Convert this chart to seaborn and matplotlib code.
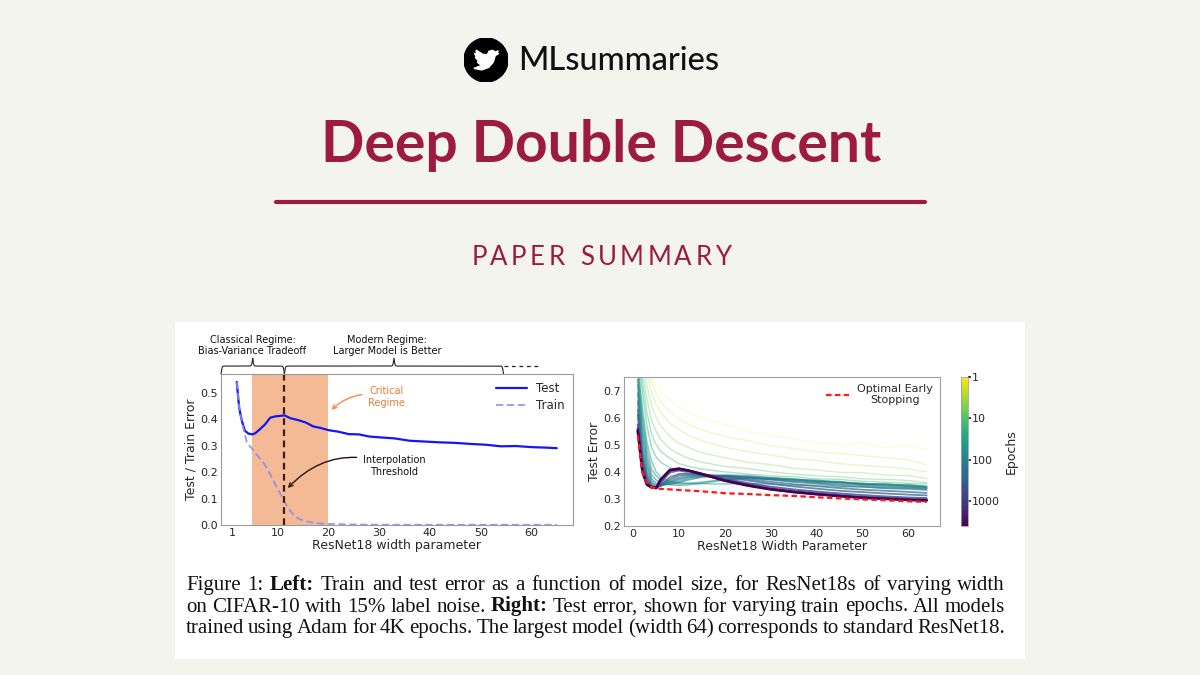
import numpy as np
import pandas as pd
import seaborn as sns
import matplotlib
matplotlib.use("Agg")
import matplotlib.pyplot as plt
import matplotlib.transforms as mtransforms
from matplotlib.colors import LogNorm
from matplotlib.patches import Rectangle, Circle, Polygon
from matplotlib.cm import ScalarMappable


'''
Data read off the picture
'''

# left panel: test / train error vs width
test_width = [1.9, 2.4, 2.9, 3.5, 4.2, 5.0, 5.6, 6.5, 7.5, 8.5, 9.5, 10.5,
              11.3, 12.5, 14, 15.5, 17, 18.5, 20, 22, 24, 26, 28, 30, 33,
              36, 39, 42, 45, 48, 51, 54, 57, 60, 63, 65]
test_error = [0.54, 0.44, 0.394, 0.356, 0.345, 0.342, 0.347, 0.362, 0.38,
              0.405, 0.41, 0.412, 0.414, 0.403, 0.396, 0.387, 0.372, 0.366,
              0.358, 0.352, 0.343, 0.342, 0.334, 0.331, 0.327, 0.318, 0.315,
              0.312, 0.31, 0.306, 0.303, 0.297, 0.298, 0.294, 0.292, 0.29]

train_width = [1.9, 2.4, 2.9, 3.9, 5.0, 6.0, 7.0, 8.0, 8.8, 9.6, 10.5, 11.3,
               12.4, 13.4, 14.5, 16, 18, 20, 25, 30, 40, 50, 65]
train_error = [0.54, 0.44, 0.39, 0.311, 0.286, 0.262, 0.24, 0.21, 0.18,
               0.15, 0.118, 0.088, 0.055, 0.032, 0.02, 0.012, 0.006, 0.004,
               0.002, 0.001, 0.001, 0.001, 0.001]

critical_start, critical_end = 5.0, 19.8
interp_threshold = 11.3

# right panel: test error vs width for a range of train epochs
widths = [1, 2, 3, 4, 5, 6, 8, 10, 12, 15, 20, 25, 30, 35, 40, 45, 50, 55, 60, 64]
epochs = [1, 2, 3, 5, 8, 13, 20, 35, 45, 60, 80, 100, 140, 180, 240, 300,
          600, 1200, 2500, 4000]

err_ep1 = [0.95, 0.92, 0.84, 0.76, 0.72, 0.70, 0.665, 0.64, 0.62, 0.60, 0.575, 0.55, 0.535, 0.52, 0.508, 0.50, 0.505, 0.49, 0.497, 0.48]
err_ep2 = [0.93, 0.89, 0.80, 0.73, 0.69, 0.66, 0.62, 0.595, 0.575, 0.555, 0.53, 0.515, 0.495, 0.487, 0.473, 0.468, 0.46, 0.452, 0.445, 0.425]
err_ep3 = [0.91, 0.86, 0.76, 0.69, 0.65, 0.62, 0.58, 0.555, 0.535, 0.515, 0.49, 0.475, 0.462, 0.448, 0.442, 0.43, 0.424, 0.418, 0.41, 0.40]
err_ep5 = [0.89, 0.82, 0.72, 0.645, 0.60, 0.57, 0.53, 0.505, 0.49, 0.47, 0.452, 0.435, 0.427, 0.413, 0.407, 0.398, 0.397, 0.388, 0.386, 0.375]
err_ep8 = [0.87, 0.78, 0.67, 0.59, 0.55, 0.52, 0.485, 0.465, 0.45, 0.435, 0.42, 0.412, 0.40, 0.392, 0.385, 0.382, 0.374, 0.372, 0.368, 0.36]
err_ep13 = [0.85, 0.74, 0.62, 0.54, 0.50, 0.475, 0.45, 0.43, 0.42, 0.41, 0.40, 0.392, 0.385, 0.382, 0.374, 0.372, 0.365, 0.362, 0.358, 0.355]
err_ep20 = [0.83, 0.70, 0.57, 0.49, 0.455, 0.435, 0.415, 0.405, 0.395, 0.39, 0.385, 0.382, 0.375, 0.372, 0.364, 0.362, 0.355, 0.357, 0.35, 0.345]
err_ep35 = [0.80, 0.64, 0.51, 0.44, 0.40, 0.38, 0.365, 0.36, 0.358, 0.356, 0.355, 0.357, 0.355, 0.35, 0.351, 0.345, 0.344, 0.341, 0.34, 0.338]
err_ep45 = [0.78, 0.61, 0.485, 0.41, 0.385, 0.37, 0.36, 0.356, 0.357, 0.362, 0.372, 0.376, 0.372, 0.37, 0.362, 0.36, 0.352, 0.35, 0.345, 0.342]
err_ep60 = [0.76, 0.58, 0.46, 0.39, 0.37, 0.36, 0.352, 0.35, 0.352, 0.358, 0.37, 0.378, 0.373, 0.371, 0.365, 0.362, 0.355, 0.354, 0.349, 0.345]
err_ep80 = [0.74, 0.55, 0.44, 0.375, 0.358, 0.354, 0.354, 0.36, 0.37, 0.38, 0.385, 0.38, 0.378, 0.37, 0.369, 0.36, 0.358, 0.35, 0.353, 0.346]
err_ep100 = [0.72, 0.52, 0.42, 0.365, 0.35, 0.35, 0.355, 0.365, 0.375, 0.383, 0.388, 0.386, 0.378, 0.374, 0.366, 0.364, 0.355, 0.354, 0.347, 0.343]
err_ep140 = [0.69, 0.49, 0.40, 0.356, 0.345, 0.348, 0.36, 0.372, 0.38, 0.385, 0.384, 0.38, 0.373, 0.366, 0.361, 0.355, 0.351, 0.345, 0.343, 0.338]
err_ep180 = [0.66, 0.47, 0.385, 0.35, 0.342, 0.348, 0.365, 0.378, 0.385, 0.387, 0.385, 0.378, 0.371, 0.362, 0.357, 0.349, 0.345, 0.339, 0.337, 0.333]
err_ep240 = [0.63, 0.455, 0.377, 0.348, 0.341, 0.35, 0.372, 0.386, 0.39, 0.389, 0.383, 0.373, 0.363, 0.354, 0.347, 0.34, 0.334, 0.33, 0.326, 0.322]
err_ep300 = [0.61, 0.44, 0.37, 0.347, 0.34, 0.352, 0.38, 0.392, 0.394, 0.39, 0.38, 0.368, 0.356, 0.346, 0.338, 0.33, 0.325, 0.32, 0.316, 0.313]
err_ep600 = [0.575, 0.42, 0.36, 0.345, 0.34, 0.36, 0.398, 0.405, 0.402, 0.392, 0.375, 0.358, 0.345, 0.335, 0.327, 0.32, 0.314, 0.309, 0.305, 0.303]
err_ep1200 = [0.56, 0.41, 0.355, 0.344, 0.34, 0.368, 0.405, 0.41, 0.405, 0.393, 0.37, 0.352, 0.338, 0.328, 0.32, 0.313, 0.307, 0.303, 0.299, 0.297]
err_ep2500 = [0.555, 0.405, 0.353, 0.343, 0.34, 0.37, 0.406, 0.411, 0.405, 0.392, 0.368, 0.35, 0.336, 0.326, 0.318, 0.311, 0.305, 0.301, 0.297, 0.295]
err_ep4000 = [0.55, 0.40, 0.352, 0.342, 0.34, 0.372, 0.407, 0.412, 0.405, 0.391, 0.367, 0.349, 0.335, 0.325, 0.317, 0.31, 0.304, 0.30, 0.296, 0.294]

optimal_early_stop = [0.535, 0.40, 0.36, 0.342, 0.339, 0.337, 0.335, 0.333, 0.331, 0.328, 0.321, 0.318, 0.314, 0.311, 0.306, 0.302, 0.298, 0.295, 0.291, 0.289]

epoch_curves = [err_ep1, err_ep2, err_ep3, err_ep5, err_ep8, err_ep13, err_ep20,
                err_ep35, err_ep45, err_ep60, err_ep80, err_ep100, err_ep140,
                err_ep180, err_ep240, err_ep300, err_ep600, err_ep1200,
                err_ep2500, err_ep4000]

caption_lines = [
    [("Figure 1:", False), ("Left:", True),
     ("Train and test error as a function of model size, for ResNet18s of varying width", False)],
    [("on CIFAR-10 with 15% label noise.", False), ("Right:", True),
     ("Test error, shown for varying train epochs. All models", False)],
    [("trained using Adam for 4K epochs. The largest model (width 64) corresponds to standard ResNet18.", False)],
]


'''
Style
'''

sns.set_theme(style="white")
plt.rcParams['font.family'] = ['DejaVu Sans']

BG = "#f4f4ef"
CRIMSON = "#9d1b40"
W, H = 1200, 675

fig = plt.figure(figsize=(12, 6.75), dpi=100, facecolor=BG)
renderer = fig.canvas.get_renderer()


def fx(x):
    return x / W


def fy(y):
    return 1 - y / H


def spaced_text(s, xc, y, size, color, track, **kw):
    # place letters one by one to get the wide tracking of the subtitle
    arts = [fig.text(0, fy(y), ch, fontsize=size, color=color, va="center", **kw) for ch in s]
    widths = []
    for ch, a in zip(s, arts):
        if ch == " ":
            widths.append(size * 0.35 * 100 / 72)
        else:
            widths.append(a.get_window_extent(renderer).width)
    total = sum(widths) + track * (len(s) - 1)
    x = xc - total / 2
    for a, w in zip(arts, widths):
        a.set_x(fx(x))
        x += w + track


def justified_line(segments, x0, x1, y, size):
    words = []
    for text, bold in segments:
        for w in text.split():
            words.append((w, bold))
    arts = [fig.text(0, fy(y), w, fontsize=size, family="Liberation Serif",
                     weight="bold" if b else "normal", va="baseline", color="#111111")
            for w, b in words]
    ws = [a.get_window_extent(renderer).width for a in arts]
    gap = (x1 - x0 - sum(ws)) / (len(words) - 1)
    x = x0
    for a, w in zip(arts, ws):
        a.set_x(fx(x))
        x += w + gap


'''
Header
'''

iax = fig.add_axes([fx(464), fy(82), fx(44), 44 / H])
iax.set_xlim(-1, 1)
iax.set_ylim(-1, 1)
iax.set_aspect("equal")
iax.axis("off")
iax.add_patch(Circle((0, 0), 1, color="black"))
bird = [(-0.55, -0.38), (-0.2, -0.45), (0.12, -0.34), (0.33, -0.1), (0.42, 0.2),
        (0.58, 0.3), (0.47, 0.3), (0.56, 0.42), (0.42, 0.36), (0.3, 0.44),
        (0.14, 0.4), (0.06, 0.24), (-0.15, 0.26), (-0.45, 0.45), (-0.43, 0.27),
        (-0.52, 0.3), (-0.42, 0.1), (-0.48, 0.12), (-0.32, -0.08), (-0.4, -0.1),
        (-0.2, -0.25)]
iax.add_patch(Polygon(bird, closed=True, color="white"))

fig.text(fx(518), fy(61), "MLsummaries", fontsize=23.5, family="Lato",
         weight="medium", color="#111111", va="center", ha="left")

fig.text(fx(601), fy(146), "Deep Double Descent", fontsize=41, family="Lato",
         weight="bold", color=CRIMSON, va="center", ha="center")
fig.add_artist(plt.Line2D([fx(276), fx(925)], [fy(202), fy(202)], color=CRIMSON,
                          lw=3, solid_capstyle="round", transform=fig.transFigure))
spaced_text("PAPER SUMMARY", 601, 257, 18.5, CRIMSON, 3.4, family="Lato", weight="normal")

# white paper figure card
fig.add_artist(Rectangle((fx(175), fy(659)), 850 / W, 337 / H, transform=fig.transFigure,
                         facecolor="white", edgecolor="none", zorder=0))


'''
Left panel
'''

ax1 = fig.add_axes([fx(221), fy(525), 352 / W, 151 / H])
ax1.set_facecolor("white")
ax1.axvspan(critical_start, critical_end, color="#f4b995", lw=0, zorder=0)
sns.lineplot(x=test_width, y=test_error, ax=ax1, color="#1515f5", lw=1.6, label="Test")
sns.lineplot(x=train_width, y=train_error, ax=ax1, color="#8c8cf0", lw=1.3,
             linestyle=(0, (4, 2)), label="Train", alpha=0.9)
ax1.axvline(interp_threshold, ymin=0, ymax=1.0, color="#3b1e0e", lw=1.6,
            linestyle=(0, (3, 2)), clip_on=False)

ax1.set_xlim(-1.2, 68.2)
ax1.set_ylim(0, 0.57)
ax1.set_xticks([1, 10, 20, 30, 40, 50, 60])
ax1.set_yticks([0.0, 0.1, 0.2, 0.3, 0.4, 0.5])
ax1.set_yticklabels(["0.0", "0.1", "0.2", "0.3", "0.4", "0.5"])
ax1.set_xlabel("ResNet18 width parameter", fontsize=9, labelpad=1)
ax1.set_ylabel("Test / Train Error", fontsize=9, labelpad=2)
ax1.tick_params(labelsize=8, length=0, pad=2)
for sp in ax1.spines.values():
    sp.set_color("#9a9a9a")
    sp.set_linewidth(0.8)
leg = ax1.legend(loc="upper right", frameon=False, fontsize=8.5, handlelength=2.6,
                 borderaxespad=0.3, labelspacing=0.3)

ax1.annotate("Critical\nRegime", xy=(20.2, 0.427), xytext=(31.4, 0.484),
             fontsize=7, color="#f07a36", ha="center", va="center",
             arrowprops=dict(arrowstyle="->", color="#f58c50", lw=1,
                             connectionstyle="arc3,rad=0.3"))
ax1.annotate("Interpolation\nThreshold", xy=(11.6, 0.132), xytext=(32.9, 0.222),
             fontsize=7, color="#111111", ha="center", va="center",
             arrowprops=dict(arrowstyle="->", color="#2a1208", lw=1,
                             connectionstyle="arc3,rad=0.35"))


def brace(ax, x0, x1, h=0.105):
    trans = mtransforms.blended_transform_factory(ax.transData, ax.transAxes)
    lo, hi = ax.get_xlim()
    span_px = ax.get_position().width * W * (x1 - x0) / (hi - lo)
    beta = 2.0 * span_px
    xs = np.linspace(0, 0.5, 300)
    half = 1 / (1 + np.exp(-beta * (xs - xs[0]))) + 1 / (1 + np.exp(-beta * (xs - xs[-1])))
    ys = np.concatenate([half, half[::-1]]) - 0.5
    xx = np.concatenate([xs, xs + 0.5])
    ax.plot(x0 + xx * (x1 - x0), 1.0 + ys * h, color="#222222", lw=0.8,
            transform=trans, clip_on=False)


brace(ax1, -1.2, interp_threshold)
brace(ax1, interp_threshold, 54.5)
trans1 = mtransforms.blended_transform_factory(ax1.transData, ax1.transAxes)
ax1.plot([54.5, 61.5], [1.055, 1.055], color="#222222", lw=0.9,
         linestyle=(0, (3, 3)), transform=trans1, clip_on=False)
ax1.text(5.0, 1.19, "Classical Regime:\nBias-Variance Tradeoff", fontsize=7,
         ha="center", va="center", transform=trans1, color="#111111", linespacing=1.2)
ax1.text(31.5, 1.19, "Modern Regime:\nLarger Model is Better", fontsize=7,
         ha="center", va="center", transform=trans1, color="#111111", linespacing=1.2)


'''
Right panel
'''

ax2 = fig.add_axes([fx(624), fy(526), 316 / W, 149 / H])
ax2.set_facecolor("white")

norm = LogNorm(vmin=1, vmax=4000)
df = pd.DataFrame({
    "width": np.tile(widths, len(epochs)),
    "epoch": np.repeat(epochs, len(widths)),
    "error": np.concatenate(epoch_curves),
})
sns.lineplot(data=df, x="width", y="error", hue="epoch", hue_norm=norm,
             palette="viridis_r", ax=ax2, lw=1.0, legend=False)
for line, e in zip(ax2.lines, epochs):
    frac = np.log(e) / np.log(4000)
    line.set_alpha(0.18 + 0.8 * frac)
    line.set_linewidth(0.9 + 0.9 * frac ** 2)

sns.lineplot(x=widths, y=optimal_early_stop, ax=ax2, color="#ff1a1a", lw=1.6,
             linestyle=(0, (2.5, 1.5)), label="Optimal Early\nStopping")

ax2.set_xlim(-2, 66.9)
ax2.set_ylim(0.2, 0.75)
ax2.set_xticks([0, 10, 20, 30, 40, 50, 60])
ax2.set_yticks([0.2, 0.3, 0.4, 0.5, 0.6, 0.7])
ax2.set_xlabel("ResNet18 Width Parameter", fontsize=9, labelpad=1)
ax2.set_ylabel("Test Error", fontsize=9, labelpad=2)
ax2.tick_params(labelsize=8, length=0, pad=2)
for sp in ax2.spines.values():
    sp.set_color("#a0a0a0")
    sp.set_linewidth(0.8)
leg2 = ax2.legend(loc="upper right", frameon=False, fontsize=8, handlelength=2.0,
                  borderaxespad=0.2)
for t in leg2.get_texts():
    t.set_multialignment("center")

cax = fig.add_axes([fx(961), fy(526), 7 / W, 149 / H])
cb = fig.colorbar(ScalarMappable(norm=norm, cmap="viridis_r"), cax=cax)
cax.invert_yaxis()
cb.set_ticks([1, 10, 100, 1000])
cb.set_ticklabels(["1", "10", "100", "1000"])
cax.minorticks_off()
cax.tick_params(labelsize=8, length=2, pad=1)
cb.outline.set_edgecolor("#a0a0a0")
cb.outline.set_linewidth(0.6)
cb.set_label("Epochs", fontsize=9, labelpad=3)


'''
Caption
'''

for i, segs in enumerate(caption_lines):
    justified_line(segs, 186, 1005, 590 + i * 21.5, 15)

fig.savefig("out.png", dpi=100, facecolor=BG)
